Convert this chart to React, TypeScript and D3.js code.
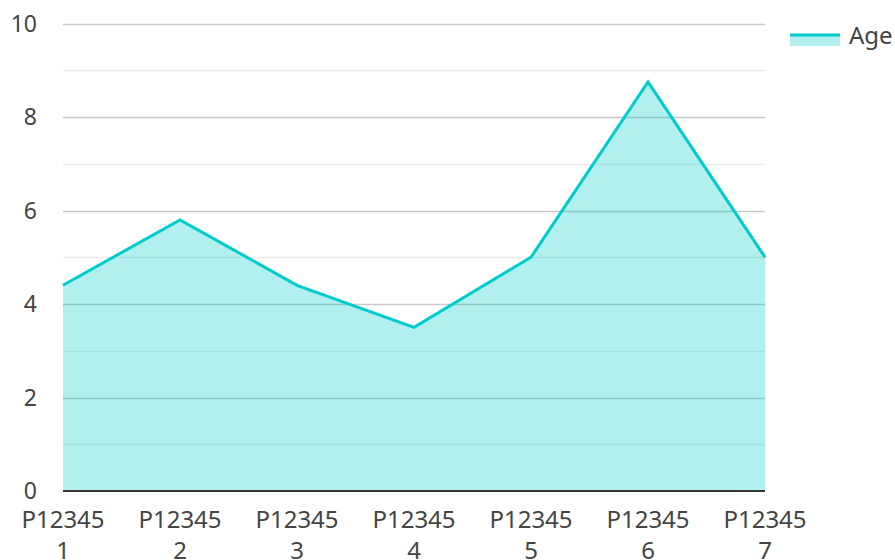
import { useEffect, useRef } from 'react';
import * as d3 from 'd3';

const categories = ['P123451', 'P123452', 'P123453', 'P123454', 'P123455', 'P123456', 'P123457'];
const ages = [4.4, 5.8, 4.4, 3.5, 5.0, 8.75, 5.0];
const yTicks = [0, 2, 4, 6, 8, 10];
const seriesName = 'Age';

export default function App() {
  const ref = useRef<SVGSVGElement | null>(null);

  useEffect(() => {
    const svg = d3.select(ref.current);
    svg.selectAll('*').remove();

    const font = '"Noto Sans", "Open Sans", sans-serif';
    const left = 63, right = 765, top = 23.5, bottom = 491;

    const x = d3.scalePoint().domain(categories).range([left, right]);
    const y = d3.scaleLinear().domain([0, 10]).range([bottom, top]);

    // grid: major at even values, minor at odd
    const grid = svg.append('g');
    d3.range(1, 11).forEach(v => {
      grid.append('line')
        .attr('x1', left).attr('x2', right)
        .attr('y1', Math.round(y(v)) + 0.5).attr('y2', Math.round(y(v)) + 0.5)
        .attr('stroke', v % 2 === 0 ? '#c8c8c8' : '#ebebeb')
        .attr('stroke-width', 1.5);
    });

    const data = categories.map((c, i) => ({ c, v: ages[i] }));

    const area = d3.area<{ c: string; v: number }>()
      .x(d => x(d.c)!)
      .y0(y(0))
      .y1(d => y(d.v));
    const line = d3.line<{ c: string; v: number }>()
      .x(d => x(d.c)!)
      .y(d => y(d.v));

    svg.append('path')
      .datum(data)
      .attr('d', area)
      .attr('fill', 'rgba(0, 204, 204, 0.3)');

    svg.append('path')
      .datum(data)
      .attr('d', line)
      .attr('fill', 'none')
      .attr('stroke', '#00cccc')
      .attr('stroke-width', 3);

    // baseline
    svg.append('line')
      .attr('x1', left).attr('x2', right)
      .attr('y1', y(0)).attr('y2', y(0))
      .attr('stroke', '#333')
      .attr('stroke-width', 2);

    // y labels
    svg.append('g').selectAll('text')
      .data(yTicks)
      .join('text')
      .attr('x', 37)
      .attr('y', d => y(d) + 8)
      .attr('text-anchor', 'end')
      .attr('fill', '#444')
      .style('font-family', font)
      .style('font-size', '23px')
      .text(d => d);

    // x labels, wrapped into two lines
    const xl = svg.append('g').selectAll('text')
      .data(categories)
      .join('text')
      .attr('text-anchor', 'middle')
      .attr('fill', '#444')
      .style('font-family', font)
      .style('font-size', '24px');
    xl.append('tspan')
      .attr('x', d => x(d)!)
      .attr('y', 528)
      .text(d => d.slice(0, 6));
    xl.append('tspan')
      .attr('x', d => x(d)!)
      .attr('y', 559)
      .text(d => d.slice(6));

    // legend
    const lg = svg.append('g');
    lg.append('rect')
      .attr('x', 790).attr('y', 35).attr('width', 50).attr('height', 11)
      .attr('fill', 'rgba(0, 204, 204, 0.3)');
    lg.append('line')
      .attr('x1', 790).attr('x2', 840).attr('y1', 35).attr('y2', 35)
      .attr('stroke', '#00cccc').attr('stroke-width', 3);
    lg.append('text')
      .attr('x', 849).attr('y', 44)
      .attr('fill', '#444')
      .style('font-family', font)
      .style('font-size', '24px')
      .text(seriesName);
  }, []);

  return (
    <svg
      ref={ref}
      width={895}
      height={560}
      style={{ position: 'absolute', left: 0, top: 0, overflow: 'hidden' }}
    />
  );
}
